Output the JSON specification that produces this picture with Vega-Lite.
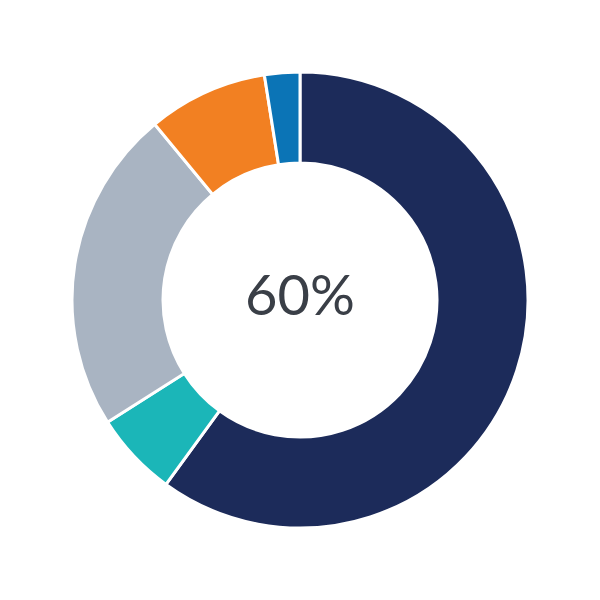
{
  "$schema": "https://vega.github.io/schema/vega-lite/v6.json",
  "width": 600,
  "height": 600,
  "autosize": {"type": "fit", "contains": "padding"},
  "padding": 0,
  "background": "white",
  "config": {"view": {"stroke": null}},
  "data": {
    "values": [
      {"segment": "A", "share": 60, "rank": 1},
      {"segment": "B", "share": 6, "rank": 2},
      {"segment": "C", "share": 23, "rank": 3},
      {"segment": "D", "share": 8.5, "rank": 4},
      {"segment": "E", "share": 2.5, "rank": 5}
    ]
  },
  "layer": [
    {
      "mark": {"type": "arc", "outerRadius": 228, "innerRadius": 137, "stroke": "white", "strokeWidth": 3},
      "encoding": {
        "theta": {"field": "share", "type": "quantitative", "stack": true},
        "order": {"field": "rank", "type": "quantitative"},
        "color": {
          "field": "segment",
          "type": "nominal",
          "legend": null,
          "scale": {
            "domain": ["A", "B", "C", "D", "E"],
            "range": ["#1c2b5a", "#1bb6b8", "#a9b4c2", "#f28022", "#0b74b6"]
          }
        }
      }
    },
    {
      "data": {"values": [{"label": "60%"}]},
      "mark": {"type": "text", "font": "Lato", "fontSize": 56, "fontWeight": 400, "color": "#3a3f47", "baseline": "middle", "align": "center", "dy": -2},
      "encoding": {"text": {"field": "label"}}
    }
  ]
}
